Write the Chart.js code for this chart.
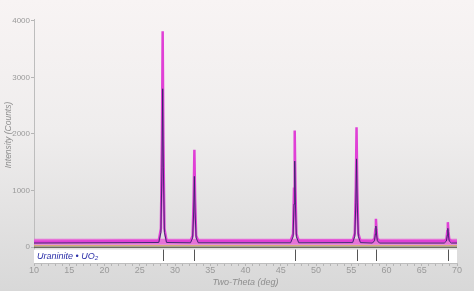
<!DOCTYPE html>
<html>
<head>
<meta charset="utf-8">
<script src="https://cdn.jsdelivr.net/npm/chart.js@4"></script>
<style>
  html, body { margin: 0; padding: 0; }
  body { width: 474px; height: 291px; background: linear-gradient(#f8f4f4, #efeded 45%, #d8d8d8); }
  canvas { display: block; }
</style>
</head>
<body>
<canvas id="xrdChart" width="474" height="291"></canvas>
<script>
// two-theta positions (deg)
const twoTheta = [10,
  27.7, 28.0, 28.15, 28.25, 28.35, 28.5, 28.8,
  32.2, 32.5, 32.65, 32.75, 32.85, 33.0, 33.3,
  46.4, 46.75, 46.88, 46.98, 47.08, 47.22, 47.55,
  55.2, 55.5, 55.65, 55.75, 55.85, 56.0, 56.3,
  58.0, 58.3, 58.42, 58.5, 58.58, 58.7, 59.0,
  68.2, 68.5, 68.62, 68.7, 68.78, 68.9, 69.2,
  70];

// observed counts (magenta)
const observed = [95,
  110, 330, 1900, 3820, 1900, 330, 110,
  105, 200, 860, 1720, 860, 200, 105,
  110, 230, 1030, 2060, 1030, 230, 110,
  110, 240, 1060, 2120, 1060, 240, 110,
  100, 150, 310, 500, 310, 150, 100,
  100, 140, 280, 440, 280, 140, 100,
  95];

// calculated profile (dark)
const calculated = [70,
  80, 260, 1400, 2800, 1400, 260, 80,
  75, 160, 620, 1250, 620, 160, 75,
  75, 180, 760, 1520, 760, 180, 75,
  78, 190, 780, 1560, 780, 190, 78,
  70, 110, 230, 370, 230, 110, 70,
  70, 105, 210, 330, 210, 105, 70,
  70];

const bandX = [10, 70];
const bandY = [95, 95];
const bkgY = [25, 25];
const diffY = [-5, -5];

// Uraninite (UO2) reference lines
const phaseName = "Uraninite \u2022 UO\u2082";
const phaseLines = [28.25, 32.75, 46.98, 55.75, 58.5, 68.7];

const yTicks = [0, 1000, 2000, 3000, 4000];
const yTitle = "Intensity (Counts)";

const pts = (xs, ys) => xs.map((x, i) => ({ x: x, y: ys[i] }));
const FONT = "'Liberation Sans', Arial, sans-serif";

const phaseStrip = {
  id: "phaseStrip",
  beforeDatasetsDraw(chart) {
    const { ctx, chartArea: a, scales: { x, y } } = chart;
    const top = y.getPixelForValue(-45);
    ctx.save();
    ctx.fillStyle = "#ffffff";
    ctx.fillRect(a.left, top, a.right - a.left, a.bottom - top);
    ctx.strokeStyle = "#555";
    ctx.lineWidth = 1;
    phaseLines.forEach(p => {
      const px = Math.round(x.getPixelForValue(p)) + 0.5;
      ctx.beginPath();
      ctx.moveTo(px, top);
      ctx.lineTo(px, a.bottom - 2);
      ctx.stroke();
    });
    ctx.fillStyle = "#2b2fa8";
    ctx.font = "italic 9px " + FONT;
    ctx.textBaseline = "middle";
    ctx.fillText(phaseName, a.left + 3, (top + a.bottom) / 2);
    ctx.restore();
  },
  afterDraw(chart) {
    const { ctx } = chart;
    ctx.save();
    ctx.translate(9, 135);
    ctx.rotate(-Math.PI / 2);
    ctx.fillStyle = "#8e8e8e";
    ctx.font = "italic 8.5px " + FONT;
    ctx.textAlign = "center";
    ctx.textBaseline = "middle";
    ctx.fillText(yTitle, 0, 0);
    ctx.restore();
  }
};

new Chart(document.getElementById("xrdChart").getContext("2d"), {
  type: "line",
  data: {
    datasets: [
      {
        label: "calc",
        data: pts(twoTheta, calculated),
        borderColor: "rgba(52, 36, 104, 0.9)",
        borderWidth: 1,
        order: 1
      },
      {
        label: "obs",
        data: pts(twoTheta, observed),
        borderColor: "#e040d6",
        borderWidth: 2.5,
        order: 2
      },
      {
        label: "band",
        data: pts(bandX, bandY),
        borderColor: "rgba(230, 96, 214, 0.85)",
        borderWidth: 6,
        order: 3
      },
      {
        label: "bkg",
        data: pts(bandX, bkgY),
        borderColor: "#d7a46a",
        borderWidth: 1,
        order: 4
      },
      {
        label: "diff",
        data: pts(bandX, diffY),
        borderColor: "#6c6c5e",
        borderWidth: 1.5,
        order: 5
      }
    ]
  },
  options: {
    responsive: false,
    animation: false,
    elements: { point: { radius: 0 }, line: { tension: 0 } },
    layout: { padding: { top: 19, right: 17, left: 0, bottom: 3 } },
    plugins: {
      legend: { display: false },
      tooltip: { enabled: false }
    },
    scales: {
      x: {
        type: "linear",
        min: 10,
        max: 70,
        border: { color: "#bdbdbd" },
        grid: { drawOnChartArea: false, tickLength: 3, color: "#b5b5b5" },
        ticks: {
          stepSize: 1,
          autoSkip: false,
          maxRotation: 0,
          padding: -1,
          color: "#9a9a9a",
          font: { size: 9, family: FONT },
          callback: v => (v % 5 === 0 ? v : "")
        },
        title: {
          display: true,
          text: "Two-Theta (deg)",
          color: "#8e8e8e",
          padding: { top: 0, bottom: 0 },
          font: { size: 9, style: "italic", family: FONT }
        },
        afterFit: s => { s.height = 25; }
      },
      y: {
        min: -283,
        max: 4035,
        afterBuildTicks: s => { s.ticks = yTicks.map(v => ({ value: v })); },
        border: { color: "#bdbdbd" },
        grid: { drawOnChartArea: false, tickLength: 3, color: "#b5b5b5" },
        ticks: {
          padding: 1,
          color: "#9a9a9a",
          font: { size: 8, family: FONT },
          callback: v => String(v)
        },
        afterFit: s => { s.width = 34; }
      }
    }
  },
  plugins: [phaseStrip]
});
</script>
</body>
</html>
